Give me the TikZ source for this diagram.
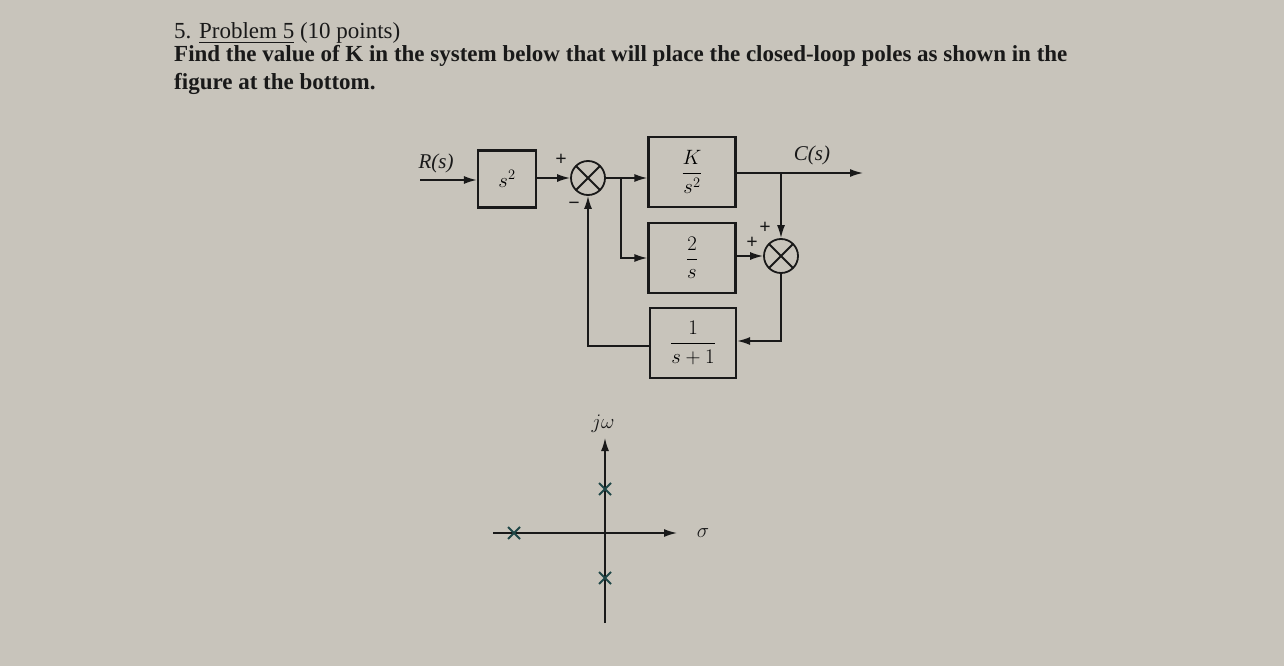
\documentclass[tikz,border=0pt]{standalone}
\usepackage{amsmath}
\usepackage{fontspec}
\setmainfont{Liberation Serif}
\usetikzlibrary{arrows.meta}
\definecolor{paper}{RGB}{200,196,187}
\definecolor{ink}{RGB}{25,25,25}
\definecolor{pole}{RGB}{30,70,70}
\begin{document}
\begin{tikzpicture}[x=1pt,y=-1pt,
  blk/.style={draw=ink,line width=2.2pt,inner sep=0pt},
  sumj/.style={draw=ink,line width=1.8pt,circle,minimum size=34pt,inner sep=0pt,path picture={\draw[ink,line width=1.8pt] (path picture bounding box.north west)--(path picture bounding box.south east) (path picture bounding box.north east)--(path picture bounding box.south west);}},
  wire/.style={draw=ink,line width=1.6pt},
  arr/.style={wire,-{Latex[length=13pt,width=8pt]}},
  lbl/.style={font=\fontsize{21}{22}\selectfont\itshape,text=ink},
  sgn/.style={font=\fontsize{20}{20}\selectfont\bfseries,text=ink},
  px/.style={pole,line width=2pt}]
\fill[paper] (0,0) rectangle (1284,666);
\useasboundingbox (0,0) rectangle (1284,666);
% header
\node[anchor=west,text=ink,font=\fontsize{23}{28}\selectfont,inner sep=0pt] (t1) at (174,33) {5. \underline{Problem 5} (10 points)};
\node[anchor=north west,text=ink,align=left,font=\fontsize{23}{28}\selectfont\bfseries,inner sep=0pt] (t2) at (174,45) {Find the value of K in the system below that will place the closed-loop poles as shown in the\\figure at the bottom.};
% blocks
\node[blk,minimum width=58pt,minimum height=57pt] (b1) at (507,179) {\fontsize{21}{22}\selectfont$s^2$};
\node[sumj] (s1) at (588,178) {};
\node[blk,minimum width=87pt,minimum height=70pt] (bK) at (692,172) {\fontsize{21}{22}\selectfont$\dfrac{K}{s^2}$};
\node[blk,minimum width=87pt,minimum height=70pt] (b2) at (692,258) {\fontsize{21}{22}\selectfont$\dfrac{2}{s}$};
\node[sumj] (s2) at (781,256) {};
\node[blk,minimum width=86pt,minimum height=70pt] (b3) at (693,343) {\fontsize{21}{22}\selectfont$\dfrac{1}{s+1}$};
\coordinate (rin) at (420,180);
\coordinate (br) at (621,178);
\coordinate (cb) at (781,173);
\coordinate (cout) at (863,173);
\node[lbl] (rl) at (436,163) {R(s)};
\node[lbl] (cl) at (812,155) {C(s)};
\draw[arr] (rin) -- (b1.west|-rin);
\draw[arr] (b1.east|-s1) -- (s1.west);
\draw[arr] (s1.east) -- (bK.west|-s1);
\draw[arr] (br) |- (b2.west);
\draw[wire] (bK.east|-cb) -- (cb);
\draw[arr] (cb) -- (cout);
\draw[arr] (cb) -- (s2.north);
\draw[arr] (b2.east|-s2) -- (s2.west);
\draw[arr] (s2.south) |- (b3.east|-0,341);
\draw[arr] (b3.west|-0,346) -| (s1.south);
\node[sgn] (p1) at (561,160) {+};
\node[sgn] (m1) at (574,206) {\textminus};
\node[sgn] (p2) at (765,228) {+};
\node[sgn] (p3) at (752,243) {+};
% pole plot
\coordinate (o) at (605,533);
\coordinate (vt) at (605,438);
\coordinate (vb) at (605,623);
\coordinate (hl) at (493,533);
\coordinate (hr) at (677,533);
\draw[arr] (vb) -- (vt);
\draw[arr] (hl) -- (hr);
\node[text=ink,font=\fontsize{22}{22}\selectfont] (jw) at (603,424) {$j\omega$};
\node[text=ink,font=\fontsize{22}{22}\selectfont] (sg) at (703,533) {$\sigma$};
\foreach \p in {(514,533),(605,489),(605,578)}
  \draw[px] \p ++(-6,-6) -- ++(12,12) \p ++(6,-6) -- ++(-12,12);
\end{tikzpicture}
\end{document}
